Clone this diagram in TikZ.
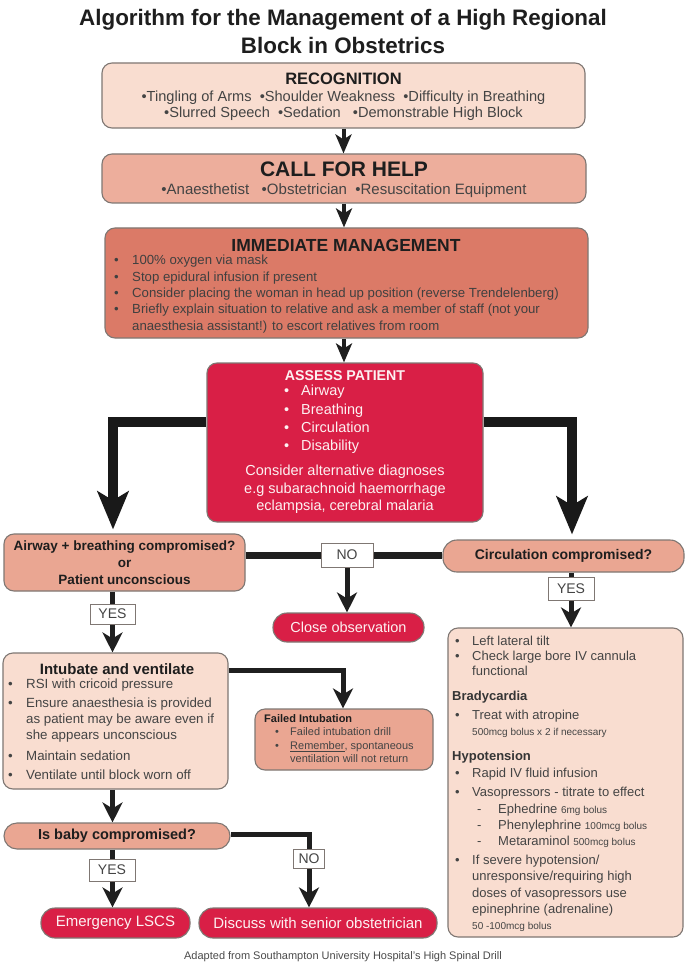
\documentclass[tikz,border=0pt]{standalone}
\usepackage{fontspec}
\setmainfont{Liberation Sans}
\usetikzlibrary{arrows.meta}
\pgfdeclarelayer{bottom}
\pgfdeclarelayer{links}
\pgfsetlayers{bottom,links,main}
\definecolor{peach}{HTML}{F9DDD0}
\definecolor{salmon}{HTML}{EDAE9C}
\definecolor{decis}{HTML}{EAA692}
\definecolor{coral}{HTML}{DB7A67}
\definecolor{crimson}{HTML}{D91F46}
\definecolor{edge}{HTML}{7F7773}
\definecolor{txt}{HTML}{444444}
\definecolor{dark}{HTML}{1E1E1E}
\definecolor{wtxt}{HTML}{FDF1F2}
\newcommand\setfs[1]{\fontsize{#1}{#1}\selectfont}
% bullet line: style, bullet x, text x, y, text
\newcommand\bl[5]{\node[t,anchor=mid west,#1] at (#2,#4) {•};\node[t,anchor=mid west,#1] at (#3,#4) {#5};}
\newcommand\tx[4]{\node[t,anchor=mid west,#1] at (#2,#3) {#4};}
\begin{document}
\begin{tikzpicture}[x=1pt,y=-1pt,
  box/.style={draw=edge, line width=1.1pt, rounded corners=10pt, inner sep=0pt},
  pill/.style={box, fill=crimson, rounded corners=14pt},
  lbl/.style={draw=edge, line width=0.9pt, fill=white, inner sep=0pt, text=txt, font=\setfs{14}},
  t/.style={inner sep=0pt, text=txt},
  conn/.style={line width=5pt, draw=black!88},
  arr/.style={conn, -{Stealth[length=20pt,width=20pt,inset=6pt]}},
  toparr/.style={line width=4pt, draw=black!88, -{Stealth[length=19pt,width=16pt,inset=5pt]}},
  bigarr/.style={line width=10pt, draw=black!90, -{Stealth[length=38pt,width=31pt,inset=9pt]}},
]
\begin{pgfonlayer}{bottom}
\fill[white] (0,0) rectangle (685,965);
\end{pgfonlayer}
\useasboundingbox (0,0) rectangle (685,965);

% title
\node[t,text=dark,font=\bfseries\setfs{22.4}] (title1) at (343,20) {Algorithm for the Management of a High Regional};
\node[t,text=dark,font=\bfseries\setfs{22.4}] (title2) at (343,45) {Block in Obstetrics};

% recognition
\node[box, fill=peach, minimum width=483pt, minimum height=65pt] (rec) at (343.5,95.5) {};
\node[t,text=dark,font=\bfseries\setfs{16.5}] at (343.5,79) {RECOGNITION};
\node[t,font=\setfs{14.6}] at (343.5,98) {•Tingling of Arms\ \ •Shoulder Weakness\ \ •Difficulty in Breathing};
\node[t,font=\setfs{14.6}] at (343.5,114) {•Slurred Speech\ \ •Sedation\ \ \ •Demonstrable High Block};

% call for help
\node[box, fill=salmon, minimum width=484pt, minimum height=49pt] (help) at (344,178.5) {};
\node[t,text=dark,font=\bfseries\setfs{21}] at (344,169) {CALL FOR HELP};
\node[t,font=\setfs{15}] at (344,191) {•Anaesthetist\ \ \ •Obstetrician\ \ •Resuscitation Equipment};

% immediate management
\node[box, fill=coral, minimum width=483pt, minimum height=110pt] (imm) at (346.5,283) {};
\node[t,text=dark,font=\bfseries\setfs{17.5}] at (346,245) {IMMEDIATE MANAGEMENT};
\bl{text=dark!85,font=\setfs{13.2}}{114}{132}{262}{100\% oxygen via mask}
\bl{text=dark!85,font=\setfs{13.2}}{114}{132}{279}{Stop epidural infusion if present}
\bl{text=dark!85,font=\setfs{13.2}}{114}{132}{295}{Consider placing the woman in head up position (reverse Trendelenberg)}
\bl{text=dark!85,font=\setfs{13.2}}{114}{132}{311}{Briefly explain situation to relative and ask a member of staff (not your}
\tx{text=dark!85,font=\setfs{13.2}}{132}{328}{anaesthesia assistant!) to escort relatives from room}

% assess patient
\node[box, fill=crimson, minimum width=276pt, minimum height=159pt] (assess) at (345,442.5) {};
\node[t,text=wtxt,font=\bfseries\setfs{14.2}] at (345,376) {ASSESS PATIENT};
\bl{text=wtxt,font=\setfs{14.5}}{284}{301}{393}{Airway}
\bl{text=wtxt,font=\setfs{14.5}}{284}{301}{412}{Breathing}
\bl{text=wtxt,font=\setfs{14.5}}{284}{301}{430}{Circulation}
\bl{text=wtxt,font=\setfs{14.5}}{284}{301}{448}{Disability}
\node[t,text=wtxt,font=\setfs{14.5}] at (345,472) {Consider alternative diagnoses};
\node[t,text=wtxt,font=\setfs{14.5}] at (345,490) {e.g subarachnoid haemorrhage};
\node[t,text=wtxt,font=\setfs{14.5}] at (345,507) {eclampsia, cerebral malaria};

% second row
\node[box, fill=decis, minimum width=241pt, minimum height=57pt] (airway) at (124.5,562.5) {};
\node[t,text=dark,font=\bfseries\setfs{13.5},align=center] at (124.5,547) {Airway + breathing compromised?};
\node[t,text=dark,font=\bfseries\setfs{13.5}] at (124.5,564) {or};
\node[t,text=dark,font=\bfseries\setfs{13.5}] at (124.5,580) {Patient unconscious};

\node[box, fill=decis, rounded corners=14pt, minimum width=241pt, minimum height=32pt] (circ) at (563.5,556) {};
\node[t,text=dark,font=\bfseries\setfs{14}] at (563.5,556) {Circulation compromised?};

\node[lbl, minimum width=52pt, minimum height=24pt] (noA) at (347,555) {NO};
\node[pill, minimum width=151pt, minimum height=29pt] (close) at (348.5,627.5) {};
\node[t,text=wtxt,font=\setfs{14.5}] at (348.5,627.5) {Close observation};

\node[lbl, minimum width=45pt, minimum height=20pt] (yesL) at (112.5,614) {YES};
\node[lbl, minimum width=46pt, minimum height=23pt] (yesR) at (571,588.5) {YES};

% intubate
\node[box, fill=peach, minimum width=225pt, minimum height=136pt] (intub) at (115.5,721) {};
\node[t,text=dark,font=\bfseries\setfs{15}] at (117,669) {Intubate and ventilate};
\bl{font=\setfs{13.3}}{8}{26}{686}{RSI with cricoid pressure}
\bl{font=\setfs{13.3}}{8}{26}{705}{Ensure anaesthesia is provided}
\tx{font=\setfs{13.3}}{26}{721}{as patient may be aware even if}
\tx{font=\setfs{13.3}}{26}{737}{she appears unconscious}
\bl{font=\setfs{13.3}}{8}{26}{758}{Maintain sedation}
\bl{font=\setfs{13.3}}{8}{26}{777}{Ventilate until block worn off}

% failed intubation
\node[box, fill=decis, minimum width=178pt, minimum height=61pt] (failed) at (344,739.5) {};
\tx{text=dark,font=\bfseries\setfs{11}}{264}{720}{Failed Intubation}
\bl{font=\setfs{11}}{275}{290}{733}{Failed intubation drill}
\bl{font=\setfs{11}}{275}{290}{747}{\underline{Remember}, spontaneous}
\tx{font=\setfs{11}}{290}{760}{ventilation will not return}

% right box
\node[box, fill=peach, minimum width=235pt, minimum height=309pt] (right) at (565.5,782.5) {};
\bl{font=\setfs{13}}{455}{472}{643}{Left lateral tilt}
\bl{font=\setfs{13}}{455}{472}{658}{Check large bore IV cannula}
\tx{font=\setfs{13}}{472}{673}{functional}
\tx{text=dark!90,font=\bfseries\setfs{13}}{452}{698}{Bradycardia}
\bl{font=\setfs{13}}{455}{472}{717}{Treat with atropine}
\tx{font=\setfs{10}}{472}{733}{500mcg bolus x 2 if necessary}
\tx{text=dark!90,font=\bfseries\setfs{13}}{452}{758}{Hypotension}
\bl{font=\setfs{13}}{455}{472}{775}{Rapid IV fluid infusion}
\bl{font=\setfs{13}}{455}{472}{794}{Vasopressors - titrate to effect}
\tx{font=\setfs{13}}{477}{811}{-}
\tx{font=\setfs{13}}{498}{811}{Ephedrine {\setfs{10}6mg bolus}}
\tx{font=\setfs{13}}{477}{827}{-}
\tx{font=\setfs{13}}{498}{827}{Phenylephrine {\setfs{10}100mcg bolus}}
\tx{font=\setfs{13}}{477}{843}{-}
\tx{font=\setfs{13}}{498}{843}{Metaraminol {\setfs{10}500mcg bolus}}
\bl{font=\setfs{13}}{455}{472}{862}{If severe hypotension/}
\tx{font=\setfs{13}}{472}{878}{unresponsive/requiring high}
\tx{font=\setfs{13}}{472}{895}{doses of vasopressors use}
\tx{font=\setfs{13}}{472}{911}{epinephrine (adrenaline)}
\tx{font=\setfs{10}}{472}{927}{50 -100mcg bolus}

% baby
\node[box, fill=decis, rounded corners=13pt, minimum width=226pt, minimum height=26pt] (baby) at (117,836) {};
\node[t,text=dark,font=\bfseries\setfs{14.5}] at (117,836) {Is baby compromised?};
\node[lbl, minimum width=46pt, minimum height=22pt] (yesB) at (112,870) {YES};
\node[lbl, minimum width=31pt, minimum height=19pt] (noB) at (309,858.5) {NO};
\node[pill, minimum width=149pt, minimum height=30pt] (lscs) at (115.5,923) {};
\node[t,text=wtxt,font=\setfs{15}] at (115.5,923) {Emergency LSCS};
\node[pill, minimum width=238pt, minimum height=30pt] (discuss) at (318,923) {};
\node[t,text=wtxt,font=\setfs{15}] at (318,923) {Discuss with senior obstetrician};

\node[t,text=dark!80,font=\setfs{11}] (foot) at (343,957) {Adapted from Southampton University Hospital's High Spinal Drill};

% connectors
\begin{pgfonlayer}{links}
\coordinate (jl) at (113,422);
\coordinate (jr) at (572,422);
\coordinate (fi) at (343,670);
\coordinate (nb) at (309,834);
\draw[toparr] (rec.south) -- (rec.south |- help.north);
\draw[toparr] (help.south) -- (help.south |- imm.north);
\draw[toparr] (help.south |- imm.south) -- (help.south |- assess.north);
\draw[bigarr] (assess.west |- jl) -- (jl) -- ([yshift=4pt]jl |- airway.north);
\draw[bigarr] (assess.east |- jr) -- (jr) -- ([yshift=5pt]jr |- circ.north);
\draw[conn,line width=7pt] (airway.east |- noA) -- (noA.west);
\draw[conn,line width=7pt] (noA.east) -- (circ.west |- noA);
\draw[arr] (noA.south) -- (noA.south |- close.north);
\draw[conn] (yesL |- airway.south) -- (yesL.north);
\draw[arr] (yesL.south) -- (yesL.south |- intub.north);
\draw[conn] (yesR |- circ.south) -- (yesR.north);
\draw[arr] (yesR.south) -- (yesR.south |- right.north);
\draw[arr] (intub.east |- fi) -- (fi) -- (fi |- failed.north);
\draw[arr] (yesL |- intub.south) -- (yesL |- baby.north);
\draw[conn] (yesL |- baby.south) -- (yesL |- yesB.north);
\draw[arr] (yesL |- yesB.south) -- (yesL |- lscs.north);
\draw[conn] (baby.east |- nb) -- (nb) -- (noB.north);
\draw[arr] (noB.south) -- (noB.south |- discuss.north);
\end{pgfonlayer}
\end{tikzpicture}
\end{document}
